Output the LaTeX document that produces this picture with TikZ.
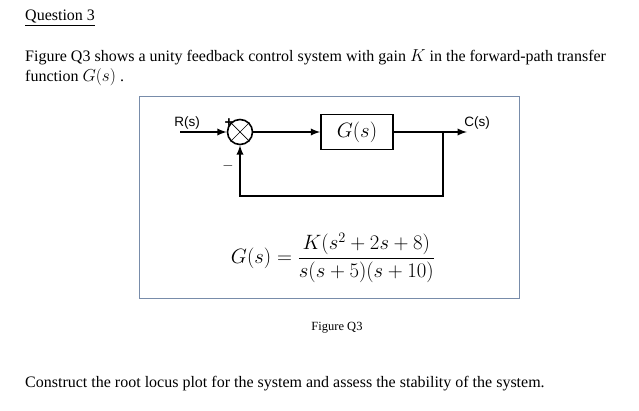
\documentclass[tikz,border=0pt]{standalone}
\usepackage{amsmath}
\usepackage{fontspec}
\setmainfont{Liberation Serif}
\newfontfamily\arialfont{Liberation Sans}
\usetikzlibrary{positioning}
\definecolor{framecol}{RGB}{120,140,170}
\tikzset{
  txt/.style={anchor=west, inner sep=0pt, font=\fontsize{16}{18}\selectfont},
  sig/.style={font=\arialfont\fontsize{13.5}{15}\selectfont, inner sep=0pt},
  wire/.style={line width=2.2pt},
  arr/.style={wire, -latex},
  block/.style={draw, line width=1.6pt, minimum width=72pt, minimum height=35pt, font=\fontsize{20}{22}\selectfont}
}
\begin{document}
\begin{tikzpicture}[x=1pt,y=-1pt]
\useasboundingbox (0,0) rectangle (639,411);
\node[txt] (title) at (25,18) {\underline{Question 3}};
\node[txt] (line1) at (25,57) {Figure Q3 shows a unity feedback control system with gain \(K\) in the forward-path transfer};
\node[txt] (line2) at (25,77) {function \(G(s)\) .};
\draw[framecol, line width=1pt] (139,97) rectangle (519,298);
% block diagram
\node[draw, circle, line width=1.6pt, minimum size=25pt, inner sep=0pt] (sum) at (240,132) {};
\draw[line width=0.7pt] (sum.north west) -- (sum.south east) (sum.north east) -- (sum.south west);
\node[block] (G) at (357,132) {\(G(s)\)};
\coordinate (rin) at (180,132);
\coordinate (branch) at (443,132);
\coordinate (cout) at (467,132);
\coordinate (fb1) at (443,196);
\coordinate (fb2) at (240,196);
\draw[arr] (rin) -- (sum);
\draw[arr] (sum) -- (G);
\draw[wire] (G) -- (branch);
\draw[arr] (branch) -- (cout);
\draw[arr] (branch) -- (fb1) -- (fb2) -- (sum);
\node[sig] (rlab) at (187,123) {R(s)};
\node[sig] (clab) at (477,123) {C(s)};
\node[font=\arialfont\fontsize{15}{16}\selectfont\bfseries, inner sep=0pt] (plus) at (229,123) {+};
\node[font=\arialfont\fontsize{15}{16}\selectfont\bfseries, inner sep=0pt] (minus) at (228,166) {\(-\)};
\node[font=\fontsize{21}{23}\selectfont] (tf) at (333,258) {\(G(s)=\dfrac{K(s^2+2s+8)}{s(s+5)(s+10)}\)};
\node[font=\fontsize{12.5}{14}\selectfont] (cap) at (337,328) {Figure Q3};
\node[txt] (task) at (25,384) {Construct the root locus plot for the system and assess the stability of the system.};
\end{tikzpicture}
\end{document}
